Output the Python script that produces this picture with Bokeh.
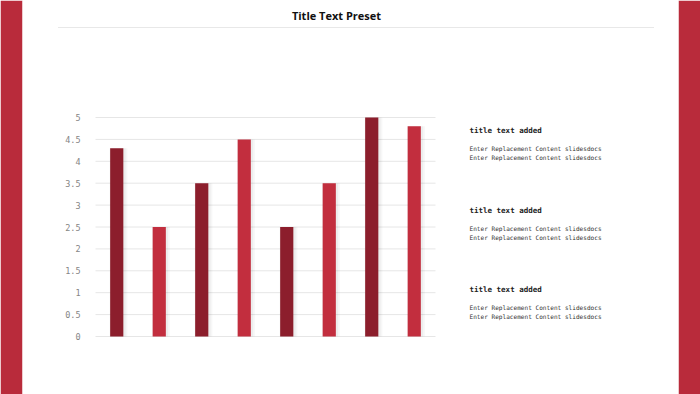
from bokeh.plotting import figure
from bokeh.models import (Range1d, FixedTicker, Label, PolyAnnotation, ColumnDataSource)
from bokeh.embed import file_html
from bokeh.resources import INLINE

# ---- data ----
categories = ["1", "2", "3", "4", "5", "6", "7", "8"]
values = [4.3, 2.5, 3.5, 4.5, 2.5, 3.5, 5.0, 4.8]
y_ticks = [0, 0.5, 1, 1.5, 2, 2.5, 3, 3.5, 4, 4.5, 5]
y_tick_labels = ["0", "0.5", "1", "1.5", "2", "2.5", "3", "3.5", "4", "4.5", "5"]
title_text = "Title Text Preset"
side_titles = ["title text added", "title text added", "title text added"]
side_body = "Enter Replacement Content slidesdocs"

DARK = "#8C1E2C"
LIGHT = "#C22E3E"
BORDER = "#B92B3B"

W, H = 700, 394
BAND = 22
# frame spans x 22..678, y 0..394 ; chart origin at (95, 336)
PX_X = 42.5   # px per category
PX_Y = 43.8   # px per unit
x_start = -(95 - BAND) / PX_X
x_end = (W - BAND - 95) / PX_X
y_start = -(H - 336) / PX_Y
y_end = 336 / PX_Y

p = figure(width=W, height=H, output_backend="svg", toolbar_location=None,
           x_range=Range1d(x_start, x_end), y_range=Range1d(y_start, y_end),
           x_axis_location=None, y_axis_location="left",
           min_border_left=BAND, min_border_right=BAND,
           min_border_top=0, min_border_bottom=0,
           outline_line_color=None, background_fill_color="white",
           border_fill_color=BORDER)

n = len(categories)
xpos = [i + 0.5 for i in range(n)]
bar_colors = [DARK if i % 2 == 0 else LIGHT for i in range(n)]
src = ColumnDataSource(dict(x=xpos, top=values, color=bar_colors, cat=categories))

# horizontal grid lines over the chart area only
p.segment(x0=[0] * len(y_ticks), x1=[n] * len(y_ticks), y0=y_ticks, y1=y_ticks,
          line_color="#E6E6E6", line_width=1)

# soft shadow
p.vbar(x=[x + 0.04 for x in xpos], top=values, bottom=0, width=0.42,
       fill_color="#000000", fill_alpha=0.03, line_color=None)
p.vbar(x=[x + 0.03 for x in xpos], top=values, bottom=0, width=0.36,
       fill_color="#000000", fill_alpha=0.04, line_color=None)
p.vbar(x="x", top="top", bottom=0, width=0.31, source=src,
       fill_color="color", line_color=None)

p.xgrid.grid_line_color = None
p.ygrid.grid_line_color = None
p.yaxis.ticker = FixedTicker(ticks=y_ticks)
p.yaxis.major_label_overrides = {t: l for t, l in zip(y_ticks, y_tick_labels)}
p.yaxis.axis_line_color = None
p.yaxis.major_tick_line_color = None
p.yaxis.minor_tick_line_color = None
p.yaxis.major_label_text_font = "DejaVu Sans Mono"
p.yaxis.major_label_text_font_size = "8.5px"
p.yaxis.major_label_text_color = "#858585"
p.yaxis.major_label_standoff = -(86 - BAND)

# title and dotted rule (screen units: from frame bottom-left)
def sx(px):
    return px - BAND

def sy(py):
    return H - py

p.add_layout(Label(x=sx(336), y=sy(15), x_units="screen", y_units="screen", text=title_text,
                   text_font="Open Sans", text_font_style="bold", text_font_size="11px",
                   text_color="#111111", text_align="center", text_baseline="middle"))
p.add_layout(PolyAnnotation(xs=[sx(58), sx(653)], ys=[sy(27), sy(27)],
                            xs_units="screen", ys_units="screen",
                            fill_alpha=0, line_color="#666666", line_width=1.2,
                            line_dash="1 1"))

# side text blocks
group_y = [130, 210, 289]
for t, gy in zip(side_titles, group_y):
    p.add_layout(Label(x=sx(469), y=sy(gy), x_units="screen", y_units="screen", text=t,
                       text_font="DejaVu Sans Mono", text_font_style="bold",
                       text_font_size="7.5px", text_color="#222222",
                       text_baseline="middle"))
    for dy in [18, 27]:
        p.add_layout(Label(x=sx(469), y=sy(gy + dy), x_units="screen", y_units="screen",
                           text=side_body, text_font="DejaVu Sans Mono",
                           text_font_size="6.1px", text_color="#333333",
                           text_baseline="middle"))

open("out.html", "w").write(file_html(p, INLINE))
